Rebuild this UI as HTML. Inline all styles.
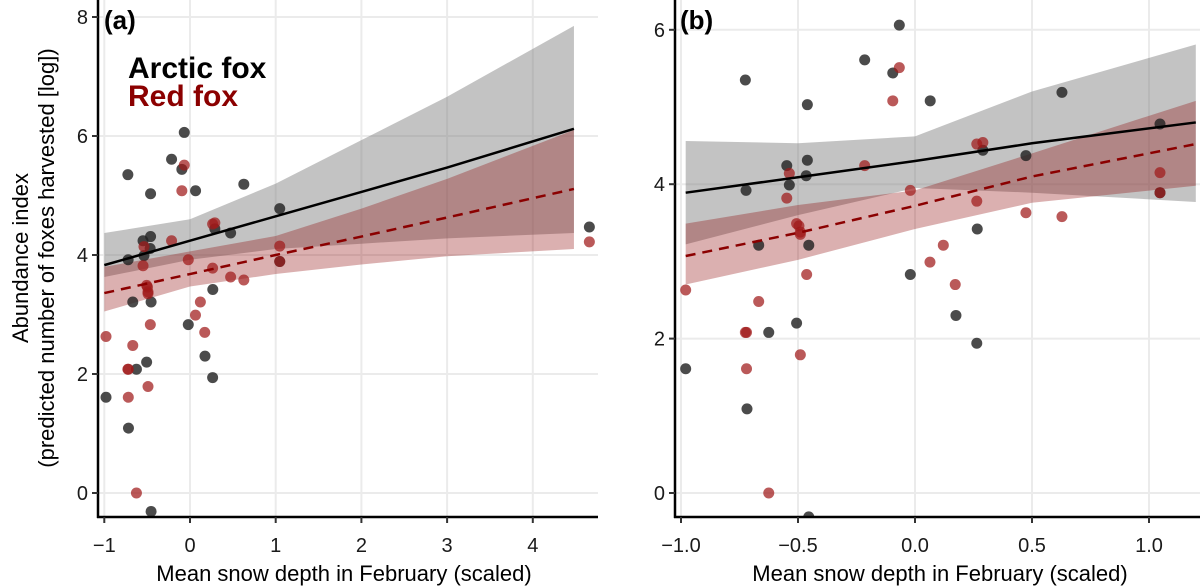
<!DOCTYPE html>
<html><head><meta charset="utf-8"><style>
html,body{margin:0;padding:0;background:#fff;}
svg{display:block;font-family:"Liberation Sans",Arial,sans-serif;}
</style></head><body>
<svg id="chart" width="1200" height="587" viewBox="0 0 1200 587" xmlns="http://www.w3.org/2000/svg">
<defs>
<clipPath id="clipA"><rect x="98" y="0" width="502" height="517"/></clipPath>
<clipPath id="clipB"><rect x="675" y="0" width="525" height="517"/></clipPath>
</defs>
<g id="panelA"></g>
<g id="panelB"></g>
<text x="104" y="29" font-size="26" font-weight="bold">(a)</text>
<text x="680" y="29" font-size="26" font-weight="bold">(b)</text>
<text x="128" y="78" font-size="30" font-weight="bold" fill="#000">Arctic fox</text>
<text x="128" y="106" font-size="30" font-weight="bold" fill="#8b0000">Red fox</text>
<g font-size="22" fill="#000" text-anchor="middle">
<text transform="translate(28,258) rotate(-90)">Abundance index</text>
<text transform="translate(54,258) rotate(-90)">(predicted number of foxes harvested [log])</text>
</g>
<text x="344" y="581" font-size="22" text-anchor="middle">Mean snow depth in February (scaled)</text>
<text x="940" y="581" font-size="22" text-anchor="middle">Mean snow depth in February (scaled)</text>
</svg>
<script>
// ---- data ----
const arcticX = [-0.067,-0.215,-0.095,-0.725,-0.46,0.065,0.628,1.047,0.29,0.474,-0.548,-0.46,-0.465,-0.537,-0.722,-0.668,-0.454,0.266,-0.02,0.175,-0.506,-0.625,0.264,-0.98,-0.718,-0.454,4.66,1.047];
const arcticY = [6.06,5.61,5.44,5.35,5.03,5.08,5.19,4.78,4.44,4.37,4.24,4.31,4.11,3.99,3.92,3.21,3.21,3.42,2.83,2.30,2.20,2.08,1.94,1.61,1.09,-0.31,4.47,3.89];
const redX = [-0.067,-0.095,-0.215,-0.537,0.264,0.29,-0.548,-0.02,1.047,1.047,0.264,0.474,0.628,-0.506,-0.496,-0.49,-0.49,-0.668,-0.463,0.064,0.121,0.172,-0.98,-0.725,-0.72,-0.72,-0.49,-0.625,4.66];
const redY = [5.51,5.08,4.24,4.14,4.52,4.54,3.82,3.92,4.15,3.89,3.78,3.63,3.58,3.49,3.46,3.38,3.35,2.48,2.83,2.99,3.21,2.70,2.63,2.08,2.08,1.61,1.79,0.0,4.22];
// panel a fitted lines & ribbons
const fitAX = [-1,0,1,2,3,4.48];
const arcticAFit = [3.83,4.24,4.65,5.06,5.47,6.12];
const arcticAUpper = [4.37,4.60,5.20,5.93,6.66,7.85];
const arcticALower = [3.63,3.92,4.10,4.19,4.28,4.37];
const redAFit = [3.36,3.68,4.00,4.31,4.63,5.11];
const redAUpper = [3.80,4.06,4.32,4.78,5.28,6.10];
const redALower = [3.05,3.47,3.68,3.84,3.98,4.10];
// panel b fitted lines & ribbons
const fitBX = [-0.98,-0.5,0,0.5,1.2];
const arcticBFit = [3.89,4.09,4.30,4.53,4.80];
const arcticBUpper = [4.56,4.53,4.62,5.20,5.81];
const arcticBLower = [3.22,3.60,3.95,3.89,3.77];
const redBFit = [3.07,3.37,3.72,4.10,4.52];
const redBUpper = [3.49,3.73,3.92,4.40,5.08];
const redBLower = [2.70,3.02,3.42,3.76,3.98];
// ticks
const xTicksA = [-1,0,1,2,3,4];
const yTicksA = [0,2,4,6,8];
const xTicksB = [-1.0,-0.5,0.0,0.5,1.0];
const yTicksB = [0,2,4,6];
const xTickLabelsB = ["\u22121.0","\u22120.5","0.0","0.5","1.0"];

const NS = "http://www.w3.org/2000/svg";
function mk(tag, attrs, parent){const e=document.createElementNS(NS,tag);for(const k in attrs)e.setAttribute(k,attrs[k]);parent.appendChild(e);return e;}

function drawPanel(g, cfg){
  const sx=v=>cfg.x0+cfg.kx*v, sy=v=>cfg.y0-cfg.ky*v;
  cfg.xt.forEach((t,i)=>{const px=sx(t); if(px>=cfg.left&&px<=cfg.right){const l=mk('line',{x1:px,x2:px,y1:0,y2:517,stroke:'#ebebeb','stroke-width':2},g);
    
    }});
  cfg.yt.forEach(t=>{const py=sy(t);const l=mk('line',{x1:cfg.left,x2:cfg.right,y1:py,y2:py,stroke:'#ebebeb','stroke-width':2},g);
    
    });
  const c=mk('g',{'clip-path':'url(#'+cfg.clip+')'},g);
  function ribbon(xs,lo,hi,fill,op,name){
    let d='M'+xs.map((x,i)=>sx(x)+','+sy(hi[i])).join('L');
    for(let i=xs.length-1;i>=0;i--) d+='L'+sx(xs[i])+','+sy(lo[i]);
    const p=mk('path',{d:d+'Z',fill:fill,'fill-opacity':op,stroke:'none'},c);
    
    
  }
  ribbon(cfg.fx,cfg.aLo,cfg.aHi,'#808080',0.47,'arctic-ci-ribbon');
  ribbon(cfg.fx,cfg.rLo,cfg.rHi,'#8b0000',0.31,'red-ci-ribbon');
  function pts(xs,ys,fill,name){
    xs.forEach((x,i)=>{const p=mk('circle',{cx:sx(x),cy:sy(ys[i]),r:5.5,fill:fill},c);
      
      });
  }
  pts(arcticX,arcticY,'rgba(35,35,35,0.82)','arctic-fox-point');
  pts(redX,redY,'rgba(160,25,25,0.72)','red-fox-point');
  const la=mk('polyline',{points:cfg.fx.map((x,i)=>sx(x)+','+sy(cfg.aF[i])).join(' '),fill:'none',stroke:'#000','stroke-width':2.5},c);
  
  
  const lr=mk('polyline',{points:cfg.fx.map((x,i)=>sx(x)+','+sy(cfg.rF[i])).join(' '),fill:'none',stroke:'#8b0000','stroke-width':2.5,'stroke-dasharray':'10,7'},c);
  
  
  const ya=mk('line',{x1:cfg.left,x2:cfg.left,y1:0,y2:518,stroke:'#000','stroke-width':2.5},g);
  
  
  const xa=mk('line',{x1:cfg.left-1,x2:cfg.right,y1:517,y2:517,stroke:'#000','stroke-width':2.5},g);
  
  
  cfg.xt.forEach((t,i)=>{const px=sx(t);
    if(px>=cfg.left-1){const tk=mk('line',{x1:px,x2:px,y1:517,y2:523,stroke:'#333','stroke-width':2},g);
      
      }
    const tx=mk('text',{x:px,y:552,'font-size':20,'text-anchor':'middle',fill:'#1a1a1a'},g);
    tx.textContent=cfg.xl?cfg.xl[i]:String(t).replace('-','\u2212');
    
    });
  cfg.yt.forEach(t=>{const py=sy(t);
    const tk=mk('line',{x1:cfg.left-6,x2:cfg.left,y1:py,y2:py,stroke:'#333','stroke-width':2},g);
    
    
    const tx=mk('text',{x:cfg.left-10,y:py+7,'font-size':20,'text-anchor':'end',fill:'#1a1a1a'},g);
    tx.textContent=String(t);
    
    });
}
drawPanel(document.getElementById('panelA'),{x0:190,kx:85.7,y0:493,ky:59.5,left:98,right:598,clip:'clipA',
  xt:xTicksA,yt:yTicksA,fx:fitAX,aF:arcticAFit,aHi:arcticAUpper,aLo:arcticALower,rF:redAFit,rHi:redAUpper,rLo:redALower});
drawPanel(document.getElementById('panelB'),{x0:915,kx:234,y0:493,ky:77.2,left:675,right:1200,clip:'clipB',
  xt:xTicksB,yt:yTicksB,xl:xTickLabelsB,fx:fitBX,aF:arcticBFit,aHi:arcticBUpper,aLo:arcticBLower,rF:redBFit,rHi:redBUpper,rLo:redBLower});
</script>
</body></html>
